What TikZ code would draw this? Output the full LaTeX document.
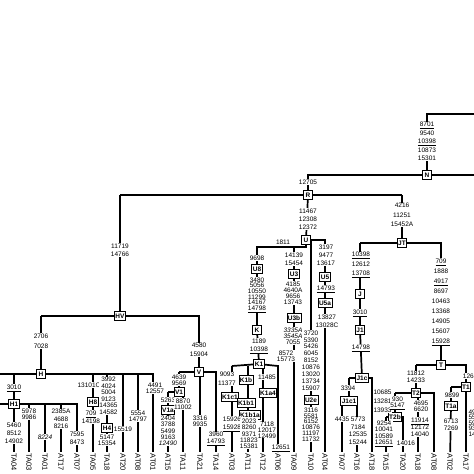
\documentclass[tikz,border=0pt]{standalone}
\usepackage{fontspec}
\setmainfont{Liberation Sans}
\usetikzlibrary{positioning}
\pgfdeclarelayer{bg}
\pgfsetlayers{bg,main}

\tikzset{
  hap/.style={draw, line width=0.7pt, fill=white, font=\bfseries\fontsize{6.5}{7}\selectfont, inner sep=1pt, minimum height=9pt, minimum width=9pt},
  muts/.style={fill=white, align=center, inner sep=0.3pt, font=\fontsize{6.5}{#1}\selectfont},
  muts/.default=7,
  leaf/.style={rotate=-90, anchor=west, inner sep=1.5pt, font=\fontsize{7.5}{8}\selectfont},
  br/.style={line width=1.7pt}
}

\begin{document}
\lineskiplimit=-10pt
\begin{tikzpicture}[x=1pt, y=-1pt]
\useasboundingbox (0,0) rectangle (474,474);

% sample names along the bottom
\foreach \x/\lbl [count=\i] in {14/TA04, 29/TA03, 45/TA01, 61/AT17, 77/AT07, 93/TA05, 107/TA18, 123/AT20, 138/AT08, 153/AT01, 168/AT15, 183/TA11, 200/TA21, 216/TA14, 232/AT03, 248/AT11, 263/AT12, 278/AT06, 294/TA09, 311/TA10, 325/AT04, 342/TA07, 357/AT16, 372/AT18, 386/TA15, 403/TA20, 418/TA18, 434/AT08, 450/AT02, 466/TA17}
{
    \node[leaf] (leaf\i) at (\x,452) {\lbl};
}

% haplogroup boxes
\node[hap] (N) at (427,175) {N};
\node[hap] (R) at (308,195) {R};
\node[hap] (HV) at (120,316) {HV};
\node[hap] (H) at (41,374) {H};
\node[hap] (H1) at (14,404) {H1};
\node[hap] (H8) at (93,402) {H8};
\node[hap] (H4) at (107,428) {H4};
\node[hap] (V) at (199,372) {V};
\node[hap] (V1) at (179,392) {V1};
\node[hap] (V1a) at (168,410) {V1a};
\node[hap] (U) at (306,240) {U};
\node[hap] (U8) at (257,269) {U8};
\node[hap] (K) at (257,330) {K};
\node[hap] (K1) at (259,364) {K1};
\node[hap] (K1c1) at (230,397) {K1c1};
\node[hap] (K1b) at (246,380) {K1b};
\node[hap] (K1b1) at (246,403) {K1b1};
\node[hap] (K1b1a) at (250,415) {K1b1a};
\node[hap] (K1a4) at (268,393) {K1a4};
\node[hap] (U3) at (294,274) {U3};
\node[hap] (U3b) at (294,318) {U3b};
\node[hap] (U5) at (325,277) {U5};
\node[hap] (U5a) at (325,303) {U5a};
\node[hap] (U2e) at (311,400) {U2e};
\node[hap] (JT) at (402,243) {JT};
\node[hap] (J) at (360,294) {J};
\node[hap] (J1) at (360,330) {J1};
\node[hap] (J1c) at (362,378) {J1c};
\node[hap] (J1c1) at (349,401) {J1c1};
\node[hap] (T) at (441,365) {T};
\node[hap] (T2) at (416,393) {T2};
\node[hap] (T2b) at (395,417) {T2b};
\node[hap] (T1) at (466,387) {T1};
\node[hap] (T1a) at (451,406) {T1a};

% branch points
\coordinate (topL) at (427,114);
\coordinate (topR) at (474,114);
\coordinate (nR) at (474,175);
\coordinate (nL) at (308,175);
\coordinate (rL) at (120,195);
\coordinate (rR) at (402,195);
\coordinate (hvL) at (41,316);
\coordinate (hvR) at (199,316);
\coordinate (hL) at (0,374);
\coordinate (hR) at (153,374);
\coordinate (hH1) at (14,374);
\coordinate (hH8) at (93,374);
\coordinate (hH4) at (107,374);
\coordinate (hAT20) at (123,374);
\coordinate (hAT08) at (138,374);
\coordinate (h1L) at (0,404);
\coordinate (h1R) at (77,404);
\coordinate (h1TA03) at (29,404);
\coordinate (h1TA01) at (45,404);
\coordinate (h1AT17) at (61,404);
\coordinate (vL) at (179,372);
\coordinate (vR) at (216,372);
\coordinate (vTA21) at (200,372);
\coordinate (v1L) at (168,392);
\coordinate (v1R) at (183,392);
\coordinate (uR) at (325,240);
\coordinate (uU2e) at (311,240);
\coordinate (uL) at (257,247);
\coordinate (uU3) at (294,247);
\coordinate (k1L) at (232,366);
\coordinate (k1R) at (278,366);
\coordinate (k1b) at (248,366);
\coordinate (k1a) at (263,366);
\coordinate (jtL) at (360,243);
\coordinate (jtR) at (441,243);
\coordinate (j1cL) at (349,378);
\coordinate (j1cR) at (372,378);
\coordinate (j1c1L) at (342,401);
\coordinate (j1c1R) at (357,401);
\coordinate (tL) at (416,365);
\coordinate (tR) at (466,365);
\coordinate (t2L) at (395,393);
\coordinate (t2M) at (418,393);
\coordinate (t2R) at (434,393);
\coordinate (t2bL) at (386,417);
\coordinate (t2bR) at (403,417);
\coordinate (t1L) at (451,387);

\begin{pgfonlayer}{bg}
% trunk
\draw[br] (topR) -- (topL) -- (N);
\draw[br] (nR) -- (N) -- (nL) -- (R);
\draw[br] (rL) -- (R) -- (rR);
\draw[br] (rL) -- (HV);
\draw[br] (hvL) -- (HV) -- (hvR) -- (V);
% H
\draw[br] (hvL) -- (H);
\draw[br] (hL) -- (H) -- (hR) -- (leaf10);
\draw[br] (hH1) -- (H1) -- (leaf1);
\draw[br] (h1L) -- (H1) -- (h1R) -- (leaf5);
\draw[br] (h1TA03) -- (leaf2);
\draw[br] (h1TA01) -- (leaf3);
\draw[br] (h1AT17) -- (leaf4);
\draw[br] (hH8) -- (H8) -- (leaf6);
\draw[br] (hH4) -- (H4) -- (leaf7);
\draw[br] (hAT20) -- (leaf8);
\draw[br] (hAT08) -- (leaf9);
% V
\draw[br] (vL) -- (V) -- (vR) -- (leaf14);
\draw[br] (vTA21) -- (leaf13);
\draw[br] (vL) -- (V1);
\draw[br] (v1L) -- (V1) -- (v1R) -- (leaf12);
\draw[br] (v1L) -- (V1a) -- (leaf11);
% U
\draw[br] (R) -- (U);
\draw[br] (U) -- (uR) -- (U5) -- (U5a) -- (leaf21);
\draw[br] (uU2e) -- (U2e) -- (leaf20);
\draw[br] (U.center) |- (uL) -- (U8) -- (K) -- (K1);
\draw[br] (uU3) -- (U3) -- (U3b) -- (leaf19);
\draw[br] (k1L) -- (K1) -- (k1R) -- (leaf18);
\draw[br] (k1L) -- (leaf15);
\draw[br] (k1b) -- (leaf16);
\draw[br] (k1a) -- (leaf17);
% JT
\draw[br] (rR) -- (JT);
\draw[br] (jtL) -- (JT) -- (jtR) -- (T);
\draw[br] (jtL) -- (J) -- (J1) -- (J1c);
\draw[br] (j1cL) -- (J1c) -- (j1cR) -- (leaf24);
\draw[br] (j1cL) -- (J1c1);
\draw[br] (j1c1L) -- (j1c1R) -- (leaf23);
\draw[br] (j1c1L) -- (leaf22);
\draw[br] (tL) -- (T) -- (tR) -- (T1);
\draw[br] (tL) -- (T2);
\draw[br] (t2L) -- (t2R) -- (leaf28);
\draw[br] (t2M) -- (leaf27);
\draw[br] (t2L) -- (T2b);
\draw[br] (t2bL) -- (t2bR) -- (leaf26);
\draw[br] (t2bL) -- (leaf25);
\draw[br] (t1L) -- (T1);
\draw[br] (t1L) -- (T1a) -- (leaf29);
\draw[br] (T1) -- (leaf30);
\end{pgfonlayer}

% mutations on the trunk
\node[muts=8.6] (mN) at (427,141.5) {\underline{8701}\\9540\\\underline{10398}\\10873\\15301};
\node[muts] (mR) at (308,182) {12705};
\node[muts=8] (mHV) at (120,250) {11719\\14766};
\node[muts=10] (mH) at (41,341) {2706\\7028};
\node[muts=9] (mV) at (199,350) {4580\\15904};

% mutations in H
\node[muts] (mH1) at (14,388) {\underline{3010}};
\node[muts=8] (mTA04) at (14,433) {5460\\8512\\14902};
\node[muts=6] (mTA03) at (29,414) {5978\\9986};
\node[muts] (mTA01) at (45,437) {\textit{8224}};
\node[muts=7.5] (mAT17) at (61,419) {2385A\\4688\\8216};
\node[muts=8] (mAT07) at (77,438) {7595\\8473};
\node[muts] (mH8) at (89,385) {13101C};
\node[muts=8] (mTA05) at (91,417) {\underline{709}\\14198};
\node[muts=6.5] (mH4) at (108.5,396) {3992\\4024\\5004\\9123\\14365\\14582};
\node[muts] (mAT20) at (123,429) {15519};
\node[muts=6] (mTA18) at (107,440) {5147\\15354};
\node[muts=6] (mAT08) at (138,416) {5554\\14797};
\node[muts=6] (mAT01) at (155,388) {4491\\12557};

% mutations in V
\node[muts=6] (mV1) at (179,380) {4639\\9569};
\node[muts] (mV1a) at (168,400) {5263};
\node[muts=6.3] (mAT15) at (168,431) {2404\\3788\\5499\\9163\\\textit{12490}};
\node[muts=6] (mTA11) at (183,404) {8870\\11002};
\node[muts=6] (mTA21) at (200,421) {3316\\9935};
\node[muts=7] (mTA14) at (216,439) {3960\\\underline{14793}};

% mutations in U and K
\node[muts=8] (mU) at (308,219) {11467\\12308\\12372};
\node[muts] (m1811) at (283,242) {1811};
\node[muts] (mU8) at (257,258) {9698};
\node[muts=5.6] (mK) at (257,295) {3480\\5056\\10550\\11299\\14167\\\underline{14798}};
\node[muts=8] (mK1) at (259,346) {1189\\\underline{10398}};
\node[muts=9] (mK1c) at (227,379) {9093\\11377};
\node[muts=8] (mAT03) at (232,424) {15926\\\underline{15928}};
\node[muts=6.3] (mAT11) at (249,434) {2023\\8260\\9371\\11823\\15381};
\node[muts] (mK1a) at (267,377) {11485};
\node[muts=5.8] (mAT12) at (267,430) {7118\\12017\\12499};
\node[muts] (mAT06) at (281,448) {\underline{12651}};
\node[muts=8] (mU3) at (294,259) {14139\\15454};
\node[muts=6] (mU3b) at (293,293) {4185\\4640A\\9656\\13743};
\node[muts=6] (mTA09) at (293,336) {\textit{3335A}\\\textit{3545A}\\7055};
\node[muts=6] (mTA09b) at (286,356) {8572\\15773};
\node[muts=8] (mU5) at (326,255) {3197\\9477\\13617};
\node[muts] (mU5a) at (326,289) {\underline{14793}};
\node[muts=8] (mAT04) at (327,321) {13827\\13028C};
\node[muts=6.9] (mU2e) at (311,360.5) {3720\\5390\\5426\\6045\\8152\\10876\\13020\\13734\\15907};
\node[muts=5.8] (mTA10) at (311,424.5) {3116\\5581\\6152\\10876\\11197\\11732};

% mutations in JT
\node[muts=9.5] (mJT) at (402,215) {4216\\11251\\15452A};
\node[muts=9.5] (mJ) at (361,265) {\underline{10398}\\12612\\\underline{13708}};
\node[muts] (mJ1) at (360,313) {\underline{3010}};
\node[muts] (mJ1c) at (361,348) {\underline{14798}};
\node[muts] (mJ1c1) at (348,388) {3394};
\node[muts] (mTA07) at (342,419) {4435};
\node[muts=7.5] (mAT16) at (358,431) {5773\\7184\\12535\\15244};
\node[muts=9, anchor=west] (mAT18) at (373,401) {10685\\13281\\13933};
\node[muts=10] (mT) at (441,302) {\underline{709}\\1888\\\underline{4917}\\8697\\10463\\13368\\14905\\15607\\\underline{15928}};
\node[muts=7] (mT2) at (416,377) {11812\\14233};
\node[muts=6] (mT2b) at (397.5,403) {930\\\underline{5147}};
\node[muts=6.5] (mTA15) at (384,434) {9254\\10041\\10589\\\underline{12651}};
\node[muts] (mTA20) at (406,443) {14016};
\node[muts=6] (mTA18b) at (421,406) {4695\\6620};
\node[muts=7] (mTA18c) at (420,427) {\underline{11914}\\12172\\14040};
\node[muts] (mT1) at (472,376) {12633};
\node[muts] (mT1a) at (452,395) {9899};
\node[muts=7] (mAT02) at (451,425) {6713\\7269};
\node[muts=5.5, anchor=west, align=left] (mTA17) at (468,423) {495\\555\\595\\930\\1418};

\end{tikzpicture}
\end{document}
